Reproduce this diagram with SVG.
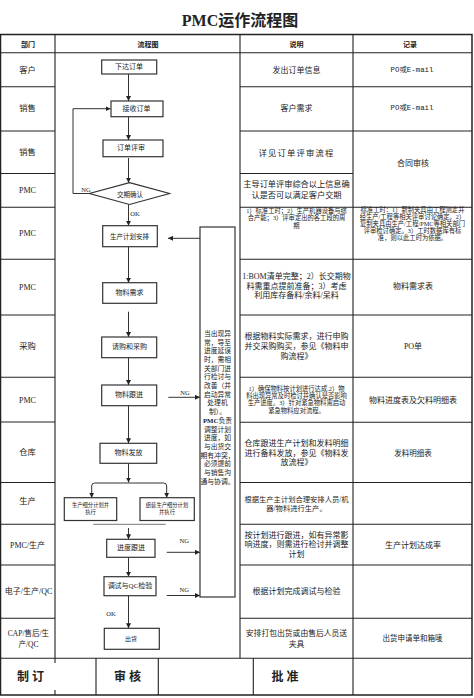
<svg xmlns="http://www.w3.org/2000/svg" width="474" height="698" viewBox="0 0 474 698">
<style>
text{font-family:"Liberation Serif","Noto Sans CJK SC",serif;fill:#222;text-anchor:middle;dominant-baseline:central}
.mono{font-family:"Liberation Mono","Noto Sans CJK SC",monospace}
.g{stroke:#222;stroke-width:1.1;fill:none}
.bx{fill:#fff;stroke:#333;stroke-width:1.2}
.c{stroke:#333;stroke-width:1;fill:none}
.ar{marker-end:url(#ah)}
.f7{font-size:7px}.f6{font-size:6.3px}.f8{font-size:8px}.f5{font-size:5.3px}
</style>
<defs>
<marker id="ah" viewBox="0 0 10 10" refX="10" refY="5" markerWidth="5" markerHeight="5" markerUnits="userSpaceOnUse" orient="auto"><path d="M0,0 L10,5 L0,10 z" fill="#222"/></marker>
</defs>
<rect width="474" height="698" fill="#fff"/>
<text x="240" y="20" style="font-size:16px;font-weight:bold">PMC运作流程图</text>

<g id="table">
<rect x="0.5" y="34.5" width="471.5" height="660.5" class="g" style="stroke-width:1.5"/>
<path class="g" d="M0,52.7H472M55,34.5V658.3M240,34.5V658.3M353,34.5V695M0,658.3H472"/>
<path class="g" d="M0,86.7H55M0,131H55M0,173.5H55M0,207.3H55M0,259.3H55M0,315H55M0,377.3H55M0,422H55M0,482.5H55M0,524.3H55M0,565H55M0,618.3H55"/>
<path class="g" d="M240,86.7H472M240,131H472M240,173.5H353M240,207.3H472M240,259.3H472M240,315H472M240,377.3H472M240,422.3H472M240,482.5H472M240,524.3H472M240,565H472M240,618.3H472"/>
<path class="g" d="M96,658.3V695M158.3,658.3V695M253.3,658.3V695M55,658.3V663M55,690V695"/>
</g>

<g id="header" style="font-weight:bold">
<text x="28" y="44.5" class="f7">部门</text>
<text x="148" y="44.5" class="f7">流程图</text>
<text x="296.5" y="44.5" class="f7">说明</text>
<text x="410" y="44.5" class="f7">记录</text>
</g>

<g id="dept" style="font-size:8.3px">
<text x="27.5" y="70.7">客户</text>
<text x="27.5" y="108.3">销售</text>
<text x="27.5" y="152.7">销售</text>
<text x="27.5" y="190.7" class="f8">PMC</text>
<text x="27.5" y="233.3" class="f8">PMC</text>
<text x="27.5" y="287.7" class="f8">PMC</text>
<text x="27.5" y="346.7">采购</text>
<text x="27.5" y="400" class="f8">PMC</text>
<text x="27.5" y="452.3">仓库</text>
<text x="27.5" y="501.7">生产</text>
<text x="27.5" y="545" class="f8">PMC/生产</text>
<text x="28.5" y="591.7" class="f8">电子/生产/QC</text>
<text x="28.5" y="633.3" style="font-size:7.5px">CAP/售后/生</text>
<text x="28.5" y="644.3" style="font-size:7.5px">产/QC</text>
</g>

<g id="desc">
<text x="296.5" y="70" class="f8">发出订单信息</text>
<text x="296.5" y="108.3" class="f8">客户需求</text>
<text x="296.5" y="153.3" style="font-size:8.3px;letter-spacing:1.2px">详见订单评审流程</text>
<text x="296.5" y="184.3" style="font-size:8.2px">主导订单评审综合以上信息确</text>
<text x="296.5" y="195" style="font-size:8.2px">认是否可以满足客户交期</text>
<text x="296.5" y="210" class="f6">1）标准工时；2）生产机器设备与综</text>
<text x="296.5" y="217.7" class="f6">合产能；3）评审定出的各工段的周</text>
<text x="296.5" y="225.3" class="f6">期</text>
<text x="296.5" y="276" class="f8">1:BOM清单完整；2）长交期物</text>
<text x="296.5" y="286" class="f8">料需重点提前准备；3）考虑</text>
<text x="296.5" y="295.7" class="f8">利用库存备料/余料/呆料</text>
<text x="296.5" y="336.7" class="f8">根据物料实际需求，进行申购</text>
<text x="296.5" y="346.7" class="f8">并交采购购买，参见《物料申</text>
<text x="296.5" y="356.7" class="f8">购流程》</text>
<text x="296.5" y="388.3" class="f6">1）确保物料按计划进行达成.2）物</text>
<text x="296.5" y="395.5" class="f6">料出现异常及时检讨并确认是否影响</text>
<text x="296.5" y="402.7" class="f6">生产进度。3）针对紧急物料需启动</text>
<text x="296.5" y="410" class="f6">紧急物料应对流程。</text>
<text x="296.5" y="443.3" class="f8">仓库跟进生产计划和发料明细</text>
<text x="296.5" y="453.3" class="f8">进行备料发放，参见《物料发</text>
<text x="296.5" y="462.7" class="f8">放流程》</text>
<text x="296.5" y="499" style="font-size:7.3px">根据生产主计划合理安排人员/机</text>
<text x="296.5" y="508.3" style="font-size:7.3px">器/物料进行生产。</text>
<text x="296.5" y="535" class="f8">按计划进行跟进，如有异常影</text>
<text x="296.5" y="544.5" class="f8">响进度，则需进行检讨并调整</text>
<text x="296.5" y="554" class="f8">计划</text>
<text x="296.5" y="591.7" class="f8">根据计划完成调试与检验</text>
<text x="296.5" y="633.3" style="font-size:7.8px">安排打包出货或由售后人员送</text>
<text x="296.5" y="644.3" style="font-size:7.8px">夹具</text>
</g>

<g id="records">
<text x="412" y="70" class="mono" style="font-size:7.4px">PO或E-mail</text>
<text x="412" y="108.3" class="mono" style="font-size:7.4px">PO或E-mail</text>
<text x="413" y="163.3" class="f8">合同审核</text>
<text x="412.5" y="209.5" class="f6">标准工时：1）新制夹具由工程测定并</text>
<text x="412.5" y="216.4" class="f6">经生产/工程等相关评审讨论确定。2）</text>
<text x="412.5" y="223.3" class="f6">复制夹具由生产/工程/PMC等相关部门</text>
<text x="412.5" y="230.2" class="f6">评审检讨确定。3）工时数据库有标</text>
<text x="412.5" y="237" class="f6">准，则以此工时为依据。</text>
<text x="413" y="286.7" class="f8">物料需求表</text>
<text x="413" y="346.7" class="f8">PO单</text>
<text x="413" y="400" class="f8">物料进度表及欠料明细表</text>
<text x="413" y="453.3" style="font-size:7.5px">发料明细表</text>
<text x="413" y="545" class="f8">生产计划达成率</text>
<text x="412.5" y="638.3" style="font-size:7.5px">出货申请单和箱唛</text>
</g>

<g id="footer" style="font-weight:bold;font-size:12px">
<text x="30.5" y="677">制 订</text>
<text x="127.5" y="677">审 核</text>
<text x="285" y="677">批 准</text>
</g>

<g id="connectors">
<path class="c ar" d="M128.5,74V101"/>
<path class="c ar" d="M128.5,116.7V140"/>
<path class="c ar" d="M128.5,158V182.7"/>
<path class="c ar" d="M89.5,193.5H73V108.7H110.5"/>
<path class="c ar" d="M128.5,204.5V225.7"/>
<path class="c ar" d="M200,238.3H168"/>
<path class="c ar" d="M128.5,246.7V282.7"/>
<path class="c ar" d="M128.5,311.7V337"/>
<path class="c ar" d="M128.5,357.7V385"/>
<path class="c ar" d="M168.3,397.3H200"/>
<path class="c ar" d="M128.5,405.7V443.3"/>
<path class="c ar" d="M128.5,463.3V482.5"/>
<path class="c ar" d="M128.5,483H94.7Q91.7,483 91.7,486V497.7"/>
<path class="c ar" d="M128.5,483H163.7Q166.7,483 166.7,486V497.7"/>
<path class="c" style="stroke:#777" d="M93.3,524.3H165.7"/>
<path class="c ar" d="M128.5,528V539.3"/>
<path class="c ar" d="M166.7,552.3H200"/>
<path class="c ar" d="M128.5,557.3V576.7"/>
<path class="c ar" d="M166.7,595.5H200"/>
<path class="c ar" d="M128.5,595.7V628.3"/>
<text x="86" y="189.5" style="font-size:6.5px">NG</text>
<text x="135" y="213" style="font-size:6.5px">OK</text>
<text x="185" y="392.5" style="font-size:6.5px">NG</text>
<text x="184.3" y="540" style="font-size:6.5px">NG</text>
<text x="184.3" y="589.3" style="font-size:6.5px">NG</text>
<text x="111" y="613.3" style="font-size:6.5px">OK</text>
</g>

<g id="n-xiada"><rect class="bx" x="101.7" y="60" width="55" height="14"/><text x="129" y="67" class="f7">下达订单</text></g>
<g id="n-jieshou"><rect class="bx" x="111" y="101" width="52" height="15.7"/><text x="136.5" y="108.8" class="f7">接收订单</text></g>
<g id="n-pingshen"><rect class="bx" x="103" y="140" width="60" height="16.7"/><text x="131" y="148.3" class="f7">订单评审</text></g>
<g id="n-jiaoqi"><path class="bx" d="M129.5,182.7L169.5,193.5L129.5,204.5L89.5,193.5Z"/><text x="130" y="194" style="font-size:6.5px">交期确认</text></g>
<g id="n-jihua"><rect class="bx" x="102.7" y="225.7" width="54.6" height="21"/><text x="129.5" y="236.2" style="font-size:6.5px">生产计划安排</text></g>
<g id="n-xuqiu"><rect class="bx" x="102.7" y="282.7" width="54" height="20.6"/><text x="129.5" y="293" class="f7">物料需求</text></g>
<g id="n-caigou"><rect class="bx" x="101.7" y="337" width="55" height="20.7"/><text x="129.5" y="347.3" class="f7">请购和采购</text></g>
<g id="n-genjin"><rect class="bx" x="101.7" y="385" width="55" height="20.7"/><text x="129" y="395.3" class="f7">物料跟进</text></g>
<g id="n-fafang"><rect class="bx" x="100" y="443.3" width="56.7" height="20"/><text x="128.5" y="453.3" class="f7">物料发放</text></g>
<g id="n-xifen1"><rect class="bx" x="64.3" y="497.7" width="52.4" height="22.8"/><text x="90.5" y="505" class="f5">生产细分计划并</text><text x="90.5" y="512.3" class="f5">执行</text></g>
<g id="n-xifen2"><rect class="bx" x="140" y="497.7" width="54.3" height="22.8"/><text x="167" y="505" class="f5">组装生产细分计划</text><text x="167" y="512.3" class="f5">并执行</text></g>
<g id="n-jindu"><rect class="bx" x="106.7" y="539.3" width="48.3" height="18"/><text x="131" y="548.3" class="f7">进度跟进</text></g>
<g id="n-tiaoshi"><rect class="bx" x="104" y="576.7" width="52" height="19"/><text x="130" y="586.2" class="f7">调试与QC检验</text></g>
<g id="n-chuhuo"><rect class="bx" x="104.3" y="628.3" width="55" height="21"/><text x="131" y="638.8" style="font-size:6px">出货</text></g>
<g id="n-yichang"><rect class="bx" x="200" y="227" width="35" height="370"/>
<text x="217.5" style="font-size:6.8px"><tspan x="217.5" y="333">当出现异</tspan><tspan x="217.5" y="341.7">常，导至</tspan><tspan x="217.5" y="350.4">进度延误</tspan><tspan x="217.5" y="359">时，需相</tspan><tspan x="217.5" y="367.7">关部门进</tspan><tspan x="217.5" y="376.4">行检讨与</tspan><tspan x="217.5" y="385.1">改善（并</tspan><tspan x="217.5" y="393.8">启动异常</tspan><tspan x="217.5" y="402.4">处理机</tspan><tspan x="217.5" y="411.1">制）。</tspan><tspan x="217.5" y="419.8"><tspan style="font-weight:bold">PMC</tspan>负责</tspan><tspan x="217.5" y="428.5">调整计划</tspan><tspan x="217.5" y="437.2">进度，如</tspan><tspan x="217.5" y="445.9">与出货交</tspan><tspan x="217.5" y="454.5">期有冲突，</tspan><tspan x="217.5" y="463.2">必须提前</tspan><tspan x="217.5" y="471.9">与销售沟</tspan><tspan x="217.5" y="480.6">通与协调。</tspan></text>
</g>
</svg>
